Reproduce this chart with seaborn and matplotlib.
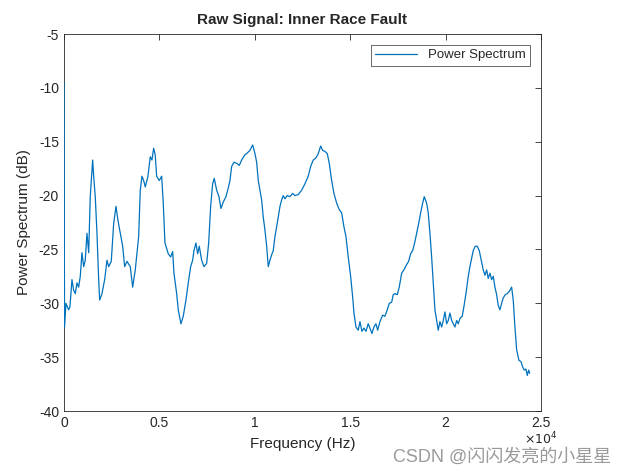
import pandas as pd
import numpy as np
import matplotlib
matplotlib.use("Agg")
import matplotlib.pyplot as plt
from matplotlib.ticker import FuncFormatter
import seaborn as sns

# spectre (Hz, dB)
freq_hz = [0, 30, 105, 246, 314, 419, 508, 592, 681, 770, 854, 943, 1032, 1116, 1205, 1295,
           1378, 1504, 1557, 1640, 1730, 1819, 1871, 1992, 2133, 2254, 2343, 2479, 2605, 2725,
           2830, 2951, 3076, 3181, 3302, 3475, 3600, 3737, 3826, 3915, 3999, 4088, 4177, 4261,
           4402, 4523, 4612, 4701, 4780, 4858, 4995, 5121, 5204, 5293, 5466, 5592, 5697, 5765,
           5907, 5990, 6132, 6252, 6394, 6515, 6640, 6745, 6813, 6918, 7007, 7091, 7217, 7337,
           7479, 7584, 7689, 7793, 7877, 8003, 8124, 8228, 8349, 8490, 8611, 8700, 8789, 8910,
           9051, 9188, 9313, 9486, 9575, 9748, 9890, 10010, 10099, 10183, 10272, 10361, 10445,
           10534, 10624, 10707, 10796, 10885, 10969, 11059, 11148, 11232, 11321, 11410, 11494,
           11583, 11703, 11845, 11986, 12107, 12280, 12458, 12631, 12804, 12930, 13066, 13207,
           13328, 13454, 13558, 13679, 13800, 13905, 14030, 14151, 14292, 14429, 14554, 14675,
           14780, 14900, 15026, 15131, 15199, 15304, 15424, 15514, 15618, 15723, 15828, 15948,
           16037, 16142, 16247, 16352, 16441, 16562, 16703, 16824, 16944, 17049, 17175, 17259,
           17348, 17468, 17573, 17699, 17819, 17961, 18066, 18171, 18276, 18380, 18485, 18590,
           18695, 18800, 18883, 19009, 19093, 19182, 19271, 19355, 19444, 19533, 19617, 19706,
           19796, 19879, 19968, 20058, 20142, 20230, 20320, 20404, 20492, 20582, 20665, 20754,
           20875, 20964, 21069, 21190, 21278, 21368, 21451, 21556, 21661, 21766, 21871, 21976,
           22065, 22154, 22238, 22327, 22416, 22500, 22589, 22678, 22762, 22851, 22940, 23024,
           23129, 23234, 23339, 23464, 23548, 23637, 23726, 23847, 23952, 24041, 24125, 24214,
           24283, 24356, 24408]
power_db = [-9.5, -32.2, -30.0, -30.6, -30.3, -27.8, -28.8, -29.1, -28.1, -28.5, -27.5, -25.3,
            -26.6, -26.0, -23.5, -25.3, -20.1, -16.7, -18.2, -20.1, -23.5, -27.8, -29.7, -29.1,
            -27.8, -26.0, -26.6, -26.1, -22.6, -21.0, -22.3, -23.5, -24.7, -26.6, -26.1, -26.6,
            -28.5, -26.9, -25.3, -23.8, -19.5, -18.2, -18.6, -19.2, -18.2, -16.4, -16.7, -15.6,
            -16.2, -18.2, -18.6, -18.2, -20.7, -24.4, -25.4, -25.7, -25.2, -27.2, -29.1, -30.6,
            -31.9, -31.2, -29.7, -28.1, -26.6, -26.0, -25.1, -24.4, -25.4, -24.7, -26.0, -26.6,
            -26.3, -24.4, -21.0, -18.9, -18.4, -19.5, -20.1, -21.2, -20.6, -20.1, -19.3, -18.6,
            -17.3, -16.9, -17.0, -17.2, -16.7, -16.2, -16.1, -15.8, -15.3, -16.1, -16.9, -18.6,
            -19.5, -20.4, -22.0, -23.2, -24.7, -26.6, -26.0, -25.5, -25.1, -23.8, -22.9, -22.0,
            -21.0, -20.4, -20.0, -20.3, -20.0, -20.1, -19.8, -20.0, -19.9, -19.5, -18.9, -18.2,
            -17.3, -16.7, -16.5, -16.1, -15.4, -15.8, -15.9, -16.1, -17.0, -18.6, -19.8, -20.7,
            -21.3, -21.6, -22.9, -23.8, -25.7, -27.5, -29.4, -30.9, -32.2, -32.5, -31.7, -32.6,
            -32.3, -32.6, -31.9, -32.3, -32.8, -32.2, -31.9, -32.5, -31.7, -31.1, -31.2, -30.6,
            -30.0, -29.9, -29.2, -29.1, -29.2, -28.5, -27.2, -26.9, -26.4, -26.1, -25.4, -25.1,
            -24.4, -23.5, -22.6, -21.6, -20.7, -20.1, -20.7, -21.6, -23.5, -25.7, -28.1, -30.6,
            -31.6, -32.5, -31.7, -32.2, -31.6, -30.8, -31.9, -31.6, -30.9, -31.6, -31.9, -32.2,
            -31.6, -31.9, -31.4, -31.2, -30.3, -29.1, -27.5, -26.6, -25.8, -25.1, -24.7, -24.7,
            -25.1, -26.0, -26.9, -27.4, -26.9, -27.7, -27.2, -27.8, -27.5, -28.5, -29.2, -30.2,
            -30.6, -30.0, -29.5, -29.2, -29.1, -28.9, -28.5, -29.7, -32.2, -34.3, -35.3, -35.4,
            -35.9, -36.2, -36.1, -36.7, -36.2, -36.5]

x_ticks = [0, 5000, 10000, 15000, 20000, 25000]
y_ticks = [-40, -35, -30, -25, -20, -15, -10, -5]

df = pd.DataFrame({"Frequency": freq_hz, "Power": power_db})

sns.set_style("white")
plt.rcParams["font.family"] = ["Liberation Sans", "DejaVu Sans"]
plt.rcParams["axes.unicode_minus"] = False

fig = plt.figure(figsize=(6.29, 4.75), dpi=100)
ax = fig.add_axes([0.1017, 0.1347, 0.7583, 0.7937])

sns.lineplot(data=df, x="Frequency", y="Power", ax=ax, sort=False, estimator=None,
             color="#0072BD", linewidth=0.9, label="Power Spectrum", zorder=3)

ax.set_xlim(0, 25000)
ax.set_ylim(-40, -5)
ax.set_xticks(x_ticks)
ax.set_yticks(y_ticks)
ax.xaxis.set_major_formatter(FuncFormatter(lambda v, p: f"{v / 1e4:g}"))
ax.tick_params(direction="in", top=True, right=True, length=4, width=0.6,
               colors="#262626", labelsize=10)
for s in ax.spines.values():
    s.set_color("#262626")
    s.set_linewidth(0.6)

ax.set_title("Raw Signal: Inner Race Fault", fontsize=11, fontweight="bold", pad=7)
ax.set_xlabel("Frequency (Hz)", fontsize=11, color="#262626", labelpad=5)
ax.set_ylabel("Power Spectrum (dB)", fontsize=11, color="#262626", labelpad=6)
ax.text(1.0, -0.075, r"$\times 10^4$", transform=ax.transAxes, fontsize=9,
        color="#262626", ha="center", va="center")

leg = ax.legend(loc="upper right", fontsize=9.5, frameon=True, fancybox=False,
                borderpad=0.35, handlelength=3.2, borderaxespad=0.8)
leg.get_frame().set_edgecolor("#262626")
leg.get_frame().set_linewidth(0.6)

# filigrane
fig.text(0.9715, 0.037, "CSDN @闪闪发亮的小星星", fontsize=13, color="#9a9a9a",
         ha="right", va="center", family=["Liberation Sans", "Noto Sans CJK SC"])

fig.savefig("out.png", dpi=100)
